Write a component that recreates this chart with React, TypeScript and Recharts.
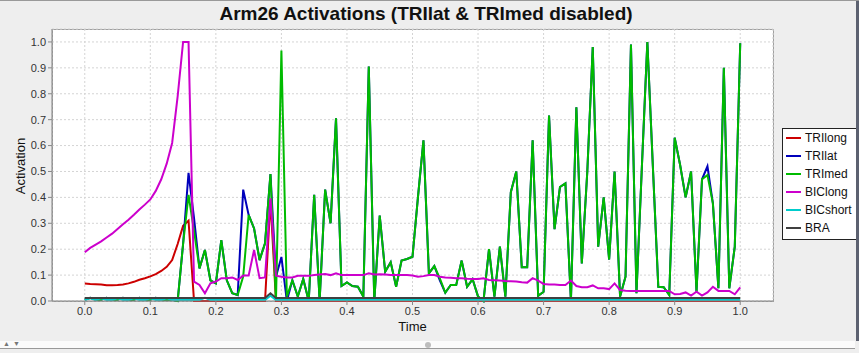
import { LineChart, Line, XAxis, YAxis, CartesianGrid } from 'recharts';

// sample times (s), one every 1/120
const times = [
  0, 0.0083, 0.0167, 0.025, 0.0333, 0.0417, 0.05, 0.0583, 0.0667, 0.075,
  0.0833, 0.0917, 0.1, 0.1083, 0.1167, 0.125, 0.1333, 0.1417, 0.15, 0.1583,
  0.1667, 0.175, 0.1833, 0.1917, 0.2, 0.2083, 0.2167, 0.225, 0.2333, 0.2417,
  0.25, 0.2583, 0.2667, 0.275, 0.2833, 0.2917, 0.3, 0.3083, 0.3167, 0.325,
  0.3333, 0.3417, 0.35, 0.3583, 0.3667, 0.375, 0.3833, 0.3917, 0.4, 0.4083,
  0.4167, 0.425, 0.4333, 0.4417, 0.45, 0.4583, 0.4667, 0.475, 0.4833, 0.4917,
  0.5, 0.5083, 0.5167, 0.525, 0.5333, 0.5417, 0.55, 0.5583, 0.5667, 0.575,
  0.5833, 0.5917, 0.6, 0.6083, 0.6167, 0.625, 0.6333, 0.6417, 0.65, 0.6583,
  0.6667, 0.675, 0.6833, 0.6917, 0.7, 0.7083, 0.7167, 0.725, 0.7333, 0.7417,
  0.75, 0.7583, 0.7667, 0.775, 0.7833, 0.7917, 0.8, 0.8083, 0.8167, 0.825,
  0.8333, 0.8417, 0.85, 0.8583, 0.8667, 0.875, 0.8833, 0.8917, 0.9, 0.9083,
  0.9167, 0.925, 0.9333, 0.9417, 0.95, 0.9583, 0.9667, 0.975, 0.9833, 0.9917,
  1.0,
];

const triLong = [
  0.068, 0.066, 0.065, 0.064, 0.061, 0.061, 0.062, 0.064, 0.068, 0.074,
  0.082, 0.088, 0.095, 0.104, 0.116, 0.132, 0.158, 0.22, 0.29, 0.31,
  0, 0, 0, 0, 0, 0, 0, 0, 0, 0,
  0, 0, 0, 0, 0.39, 0, 0, 0, 0, 0,
  0, 0, 0, 0, 0, 0, 0, 0, 0, 0,
  0, 0, 0, 0, 0, 0, 0, 0, 0, 0,
  0, 0, 0, 0, 0, 0, 0, 0, 0, 0,
  0, 0, 0, 0, 0, 0, 0, 0, 0, 0,
  0, 0, 0, 0, 0, 0, 0, 0, 0, 0,
  0, 0, 0, 0, 0, 0, 0, 0, 0, 0,
  0, 0, 0, 0, 0, 0, 0, 0, 0, 0,
  0, 0, 0, 0, 0, 0, 0, 0, 0, 0,
  0,
];

const triLat = [
  0.005, 0.012, 0.005, 0.005, 0.012, 0.005, 0.005, 0.012, 0.005, 0.005,
  0.012, 0.005, 0.005, 0.012, 0.005, 0.005, 0.005, 0.0, 0.22, 0.495,
  0.32, 0.126, 0.197, 0.08, 0.068, 0.235, 0.08, 0.03, 0.023, 0.43,
  0.332, 0.28, 0.158, 0.223, 0.49, 0.094, 0.17, 0.0, 0.08, 0.017,
  0.085, 0.0, 0.41, 0.0, 0.43, 0.3, 0.705, 0.058, 0.072, 0.058,
  0.055, 0.017, 0.905, 0.0, 0.33, 0.113, 0.15, 0.055, 0.156, 0.162,
  0.171, 0.4, 0.62, 0.107, 0.135, 0.08, 0.032, 0.062, 0.062, 0.156,
  0.055, 0.084, 0.017, 0.0, 0.2, 0.017, 0.21, 0.017, 0.42, 0.5,
  0.13, 0.13, 0.62, 0.02, 0.036, 0.716, 0.277, 0.44, 0.454, 0.0,
  0.748, 0.145, 0.5, 0.98, 0.21, 0.4, 0.16, 0.5, 0.017, 0.094,
  0.99, 0.03, 0.52, 1.0, 0.52, 0.055, 0.053, 0.023, 0.63, 0.525,
  0.4, 0.5, 0.036, 0.47, 0.52, 0.377, 0.049, 0.9, 0.049, 0.21,
  0.995,
];

const triMed = [
  0.005, 0.012, 0.005, 0.005, 0.012, 0.005, 0.005, 0.012, 0.005, 0.005,
  0.012, 0.005, 0.005, 0.012, 0.005, 0.005, 0.005, 0.0, 0.22, 0.41,
  0.27, 0.126, 0.197, 0.08, 0.068, 0.235, 0.08, 0.03, 0.023, 0.094,
  0.332, 0.28, 0.158, 0.223, 0.49, 0.0, 0.967, 0.017, 0.08, 0.017,
  0.085, 0.0, 0.41, 0.0, 0.43, 0.3, 0.705, 0.058, 0.072, 0.058,
  0.055, 0.017, 0.905, 0.0, 0.33, 0.113, 0.15, 0.055, 0.156, 0.162,
  0.171, 0.4, 0.62, 0.107, 0.135, 0.087, 0.032, 0.062, 0.062, 0.156,
  0.055, 0.084, 0.017, 0.0, 0.2, 0.017, 0.21, 0.017, 0.42, 0.5,
  0.13, 0.13, 0.62, 0.02, 0.036, 0.716, 0.277, 0.44, 0.454, 0.0,
  0.748, 0.145, 0.5, 0.98, 0.21, 0.4, 0.16, 0.5, 0.017, 0.094,
  0.99, 0.03, 0.52, 1.0, 0.52, 0.055, 0.053, 0.023, 0.63, 0.525,
  0.4, 0.5, 0.036, 0.47, 0.486, 0.377, 0.049, 0.9, 0.049, 0.21,
  0.995,
];

const bicLong = [
  0.188, 0.205, 0.218, 0.23, 0.245, 0.26, 0.278, 0.296, 0.314, 0.333,
  0.353, 0.372, 0.392, 0.425, 0.47, 0.53, 0.61, 0.79, 1.0, 1.0,
  0.075, 0.062, 0.03, 0.068, 0.075, 0.088, 0.088, 0.091, 0.081, 0.098,
  0.098, 0.197, 0.088, 0.091, 0.396, 0.098, 0.094, 0.091, 0.091, 0.097,
  0.097, 0.097, 0.1, 0.102, 0.104, 0.1, 0.107, 0.1, 0.1, 0.1,
  0.1, 0.1, 0.107, 0.102, 0.103, 0.102, 0.1, 0.1, 0.1, 0.1,
  0.098, 0.094, 0.096, 0.1, 0.1, 0.094, 0.091, 0.09, 0.088, 0.088,
  0.086, 0.085, 0.085, 0.088, 0.081, 0.08, 0.079, 0.077, 0.076, 0.075,
  0.072, 0.071, 0.088, 0.079, 0.066, 0.064, 0.064, 0.062, 0.062, 0.079,
  0.058, 0.053, 0.053, 0.06, 0.049, 0.049, 0.046, 0.068, 0.042, 0.04,
  0.039, 0.039, 0.039, 0.039, 0.039, 0.039, 0.039, 0.039, 0.026, 0.027,
  0.033, 0.021, 0.036, 0.021, 0.033, 0.055, 0.039, 0.039, 0.039, 0.026,
  0.053,
];

const bicShort = [
  0.004, 0.01, 0.004, 0.01, 0.004, 0.004, 0.01, 0.004, 0.004, 0.01,
  0.004, 0.004, 0.01, 0.004, 0.004, 0.01, 0.004, 0.004, 0.004, 0.004,
  0.004, 0.004, 0.012, 0.004, 0.004, 0.004, 0.004, 0.004, 0.004, 0.004,
  0.004, 0.004, 0.004, 0.004, 0.02, 0.004, 0.004, 0.004, 0.004, 0.004,
  0.004, 0.004, 0.004, 0.004, 0.004, 0.004, 0.004, 0.004, 0.004, 0.004,
  0.004, 0.004, 0.004, 0.004, 0.004, 0.004, 0.004, 0.004, 0.004, 0.004,
  0.004, 0.004, 0.004, 0.004, 0.004, 0.004, 0.004, 0.004, 0.004, 0.004,
  0.004, 0.004, 0.004, 0.004, 0.004, 0.004, 0.004, 0.004, 0.004, 0.004,
  0.004, 0.004, 0.004, 0.004, 0.004, 0.004, 0.004, 0.004, 0.004, 0.004,
  0.004, 0.004, 0.004, 0.004, 0.004, 0.004, 0.004, 0.004, 0.004, 0.004,
  0.004, 0.004, 0.004, 0.004, 0.004, 0.004, 0.004, 0.004, 0.004, 0.004,
  0.004, 0.004, 0.004, 0.004, 0.004, 0.004, 0.004, 0.004, 0.004, 0.004,
  0.004,
];

const bra = [
  0.012, 0.012, 0.012, 0.012, 0.012, 0.012, 0.012, 0.012, 0.012, 0.012,
  0.012, 0.012, 0.012, 0.012, 0.012, 0.012, 0.012, 0.012, 0.012, 0.012,
  0.012, 0.012, 0.012, 0.012, 0.012, 0.012, 0.012, 0.012, 0.012, 0.012,
  0.012, 0.012, 0.012, 0.012, 0.03, 0.012, 0.012, 0.012, 0.012, 0.012,
  0.012, 0.012, 0.012, 0.012, 0.012, 0.012, 0.012, 0.012, 0.012, 0.012,
  0.012, 0.012, 0.012, 0.012, 0.012, 0.012, 0.012, 0.012, 0.012, 0.012,
  0.012, 0.012, 0.012, 0.012, 0.012, 0.012, 0.012, 0.012, 0.012, 0.012,
  0.012, 0.012, 0.012, 0.012, 0.012, 0.012, 0.012, 0.012, 0.012, 0.012,
  0.012, 0.012, 0.012, 0.012, 0.012, 0.012, 0.012, 0.012, 0.012, 0.012,
  0.012, 0.012, 0.012, 0.012, 0.012, 0.012, 0.012, 0.012, 0.012, 0.012,
  0.012, 0.012, 0.012, 0.012, 0.012, 0.012, 0.012, 0.012, 0.012, 0.012,
  0.012, 0.012, 0.012, 0.012, 0.012, 0.012, 0.012, 0.012, 0.012, 0.012,
  0.012,
];

const xTicks = [0, 0.1, 0.2, 0.3, 0.4, 0.5, 0.6, 0.7, 0.8, 0.9, 1.0];
const yTicks = [0, 0.1, 0.2, 0.3, 0.4, 0.5, 0.6, 0.7, 0.8, 0.9, 1.0];

const series = [
  { name: 'TRIlong', values: triLong, color: '#cc0000' },
  { name: 'TRIlat', values: triLat, color: '#0000bb' },
  { name: 'TRImed', values: triMed, color: '#00bb00' },
  { name: 'BIClong', values: bicLong, color: '#cc00cc' },
  { name: 'BICshort', values: bicShort, color: '#00cccc' },
  { name: 'BRA', values: bra, color: '#404040' },
];

const rows = times.map((t, i) => {
  const row: Record<string, number> = { time: t };
  series.forEach((s) => {
    row[s.name] = s.values[i];
  });
  return row;
});

const FONT = '"Lucida Grande", "Liberation Sans", Arial, sans-serif';

export default function App() {
  return (
    <div
      style={{
        position: 'fixed',
        left: 0,
        top: 0,
        width: 859,
        height: 353,
        background: '#eeeeee',
        overflow: 'hidden',
        fontFamily: FONT,
        color: '#222',
        borderTop: '1px solid #999',
        boxSizing: 'border-box',
      }}
    >
      {/* title */}
      <div
        style={{
          position: 'absolute',
          left: 0,
          top: 1,
          width: 852,
          textAlign: 'center',
          fontSize: 19,
          fontWeight: 'bold',
          lineHeight: '24px',
          color: '#111',
        }}
      >
        Arm26 Activations (TRIlat &amp; TRImed disabled)
      </div>

      {/* plot background + border */}
      <div
        style={{
          position: 'absolute',
          left: 52,
          top: 28,
          width: 722,
          height: 273,
          background: '#ffffff',
          border: '1px solid #a0a0a0',
          boxSizing: 'border-box',
        }}
      />

      <div style={{ position: 'absolute', left: 0, top: -1 }}>
        <LineChart
          width={859}
          height={353}
          data={rows}
          margin={{ top: 29, right: 86, bottom: 22, left: 0 }}
        >
          <CartesianGrid strokeDasharray="2 2" stroke="#d4d4d4" />
          <XAxis
            dataKey="time"
            type="number"
            domain={[-0.05, 1.05]}
            ticks={xTicks}
            tickFormatter={(v: number) => v.toFixed(1)}
            tick={{ fontSize: 11, fill: '#333' }}
            tickSize={4}
            tickMargin={2}
            stroke="#888"
            height={30}
            label={{ value: 'Time', position: 'insideBottom', offset: 0, fontSize: 13, fill: '#111' }}
          />
          <YAxis
            type="number"
            domain={[0, 1.05]}
            ticks={yTicks}
            tickFormatter={(v: number) => v.toFixed(1)}
            tick={{ fontSize: 11, fill: '#333' }}
            tickSize={4}
            tickMargin={2}
            stroke="#888"
            width={52}
          />
          {series.map((s) => (
            <Line
              key={s.name}
              type="linear"
              dataKey={s.name}
              stroke={s.color}
              strokeWidth={2}
              dot={false}
              isAnimationActive={false}
            />
          ))}
        </LineChart>
      </div>

      {/* y axis label */}
      <div
        style={{
          position: 'absolute',
          left: 20,
          top: 165,
          transform: 'translate(-50%, -50%) rotate(-90deg)',
          fontSize: 13,
          whiteSpace: 'nowrap',
          color: '#111',
        }}
      >
        Activation
      </div>

      {/* legend */}
      <div
        style={{
          position: 'absolute',
          left: 782,
          top: 127,
          width: 76,
          height: 112,
          background: '#fff',
          border: '1px solid #222',
          boxSizing: 'border-box',
          paddingLeft: 3,
        }}
      >
        {series.map((s) => (
          <div key={s.name} style={{ display: 'flex', alignItems: 'center', height: 18, fontSize: 12, color: '#111' }}>
            <span style={{ display: 'inline-block', width: 15, height: 2.5, background: s.color, marginRight: 4 }} />
            {s.name}
          </div>
        ))}
      </div>

      {/* bottom scroll strip */}
      <div
        style={{
          position: 'absolute',
          left: 0,
          top: 340,
          width: 855,
          height: 8,
          background: '#fbfbfb',
          borderBottom: '1px solid #999',
          boxSizing: 'border-box',
        }}
      />
      <div
        style={{
          position: 'absolute',
          left: 425,
          top: 341,
          width: 6,
          height: 6,
          borderRadius: 3,
          background: '#bdbdbd',
        }}
      />
      <div style={{ position: 'absolute', left: 3, top: 339, fontSize: 7, color: '#777', letterSpacing: 3 }}>
        ▲▼
      </div>

      {/* right window edge */}
      <div style={{ position: 'absolute', left: 856, top: 0, width: 3, height: 340, background: '#5c6170' }} />
    </div>
  );
}
